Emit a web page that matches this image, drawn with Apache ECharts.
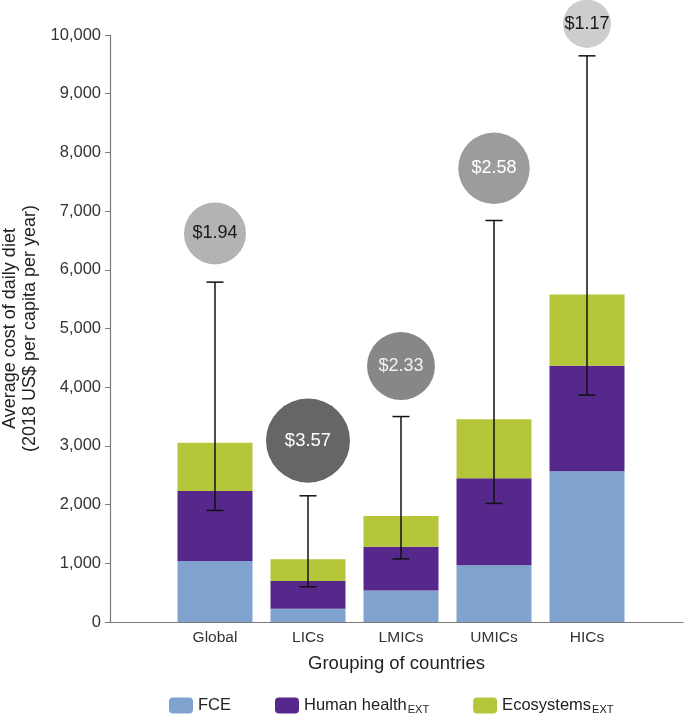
<!DOCTYPE html>
<html><head><meta charset="utf-8">
<script src="https://cdn.jsdelivr.net/npm/echarts@6/dist/echarts.min.js"></script>
<style>html,body{margin:0;padding:0;background:#fff}#c{width:685px;height:716px}</style>
</head><body><div id="c"></div>
<script>
const categories = ['Global', 'LICs', 'LMICs', 'UMICs', 'HICs'];
const fce = [1040, 225, 535, 965, 2570];
const humanHealth = [1190, 475, 745, 1485, 1795];
const ecosystems = [825, 370, 525, 1005, 1215];
const errLow = [1900, 600, 1075, 2020, 3865];
const errHigh = [5790, 2150, 3500, 6840, 9645];
const costValues = [1.94, 3.57, 2.33, 2.58, 1.17];
const costLabels = ['$1.94', '$3.57', '$2.33', '$2.58', '$1.17'];
const circleY = [6620, 3090, 4360, 7730, 10190];
const yTicks = [0, 1000, 2000, 3000, 4000, 5000, 6000, 7000, 8000, 9000, 10000];

const circleFill = ['#b3b3b3', '#666666', '#878787', '#9c9c9c', '#cdcdcd'];
const circleText = ['#1a1a1a', '#ffffff', '#f2f2f2', '#ffffff', '#1a1a1a'];
const FONT = 'Liberation Sans';

const chart = echarts.init(document.getElementById('c'));
chart.setOption({
  animation: false,
  textStyle: { fontFamily: FONT },
  grid: [
    { left: 110, right: 2, top: 35, bottom: 94, containLabel: false, outerBoundsMode: 'none' },
    { left: 168.5, width: 465, top: 35, bottom: 94, containLabel: false, outerBoundsMode: 'none' }
  ],
  xAxis: [
    {
      gridIndex: 0, type: 'value', min: 0, max: 1,
      axisLine: { show: true, lineStyle: { color: '#7a7a7a', width: 1.2 } },
      axisTick: { show: false }, axisLabel: { show: false }, splitLine: { show: false },
      name: 'Grouping of countries', nameLocation: 'middle', nameGap: 32,
      nameTextStyle: { fontSize: 18.5, color: '#222', fontFamily: FONT }
    },
    {
      gridIndex: 1, type: 'category', data: categories,
      axisLine: { show: false }, axisTick: { show: false },
      axisLabel: { fontSize: 15.5, color: '#333', margin: 8, fontFamily: FONT }
    }
  ],
  yAxis: [
    {
      gridIndex: 0, type: 'value', min: yTicks[0], max: yTicks[yTicks.length - 1], interval: 1000,
      axisLine: { show: true, lineStyle: { color: '#7a7a7a', width: 1.2 } },
      axisTick: { show: true, length: 5, lineStyle: { color: '#7a7a7a' } },
      splitLine: { show: false },
      axisLabel: {
        fontSize: 16.5, color: '#333', margin: 9, fontFamily: FONT,
        formatter: v => v.toLocaleString('en-US')
      },
      name: 'Average cost of daily diet\n(2018 US$ per capita per year)',
      nameLocation: 'middle', nameGap: 70, nameRotate: 90,
      nameTextStyle: { fontSize: 18, color: '#222', lineHeight: 20, fontFamily: FONT }
    },
    {
      gridIndex: 1, type: 'value', min: yTicks[0], max: yTicks[yTicks.length - 1],
      show: false
    }
  ],
  legend: {
    left: 164, top: 692, itemWidth: 24, itemHeight: 16, itemGap: 44,
    data: ['FCE', 'Human health', 'Ecosystems'],
    formatter: n => n === 'FCE' ? n : n + '{sub|EXT}',
    textStyle: {
      fontSize: 16.5, color: '#222', fontFamily: FONT,
      rich: { sub: { fontSize: 11, color: '#222', padding: [9, 0, 0, 1], fontFamily: FONT } }
    }
  },
  series: [
    { name: 'FCE', type: 'bar', stack: 's', xAxisIndex: 1, yAxisIndex: 1, barWidth: 75,
      itemStyle: { color: '#80a2cf' }, data: fce },
    { name: 'Human health', type: 'bar', stack: 's', xAxisIndex: 1, yAxisIndex: 1, barWidth: 75,
      itemStyle: { color: '#57288c' }, data: humanHealth },
    { name: 'Ecosystems', type: 'bar', stack: 's', xAxisIndex: 1, yAxisIndex: 1, barWidth: 75,
      itemStyle: { color: '#b6c63a' }, data: ecosystems },
    {
      type: 'custom', xAxisIndex: 1, yAxisIndex: 1, z: 5,
      data: categories.map((c, i) => [i, errLow[i], errHigh[i]]),
      renderItem: (params, api) => {
        const lo = api.coord([api.value(0), api.value(1)]);
        const hi = api.coord([api.value(0), api.value(2)]);
        const w = 8.5;
        const st = { stroke: '#111', lineWidth: 1.5 };
        return { type: 'group', children: [
          { type: 'line', shape: { x1: lo[0], y1: lo[1], x2: hi[0], y2: hi[1] }, style: st },
          { type: 'line', shape: { x1: lo[0] - w, y1: lo[1], x2: lo[0] + w, y2: lo[1] }, style: st },
          { type: 'line', shape: { x1: hi[0] - w, y1: hi[1], x2: hi[0] + w, y2: hi[1] }, style: st }
        ]};
      }
    },
    {
      type: 'scatter', xAxisIndex: 1, yAxisIndex: 1, clip: false, z: 6,
      data: categories.map((c, i) => ({
        value: [i, circleY[i]],
        symbolSize: 44.5 * Math.sqrt(costValues[i]),
        itemStyle: { color: circleFill[i], opacity: 1 },
        label: { color: circleText[i], fontSize: costValues[i] > 3 ? 18.5 : 18 }
      })),
      label: { show: true, position: 'inside', fontFamily: FONT,
        formatter: p => costLabels[p.dataIndex] }
    }
  ]
});
</script></body></html>
